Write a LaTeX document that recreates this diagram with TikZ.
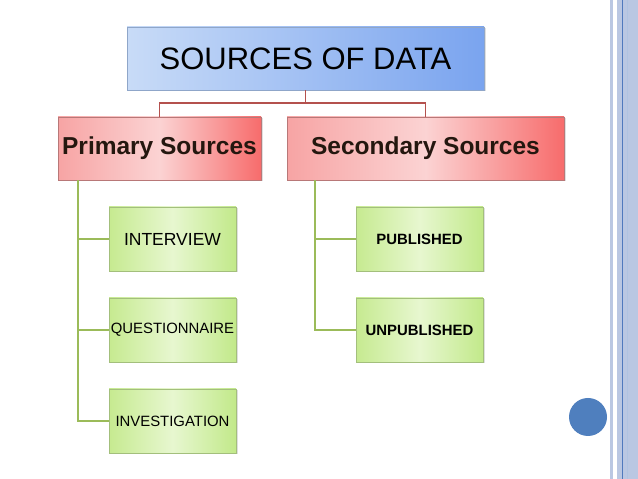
\documentclass[tikz,border=0pt]{standalone}
\usepackage{fontspec}
\setmainfont{Liberation Sans}
\usetikzlibrary{shadows}

\definecolor{blueL}{HTML}{C8DBF7}
\definecolor{blueR}{HTML}{7AA4EF}
\definecolor{blueEdge}{HTML}{8FA6C9}
\definecolor{redL}{HTML}{F7A4A4}
\definecolor{redM}{HTML}{FBD3D3}
\definecolor{redR}{HTML}{F76C6C}
\definecolor{redEdge}{HTML}{B87878}
\definecolor{redText}{HTML}{24170F}
\definecolor{greenL}{HTML}{C6EA90}
\definecolor{greenM}{HTML}{E7F7D0}
\definecolor{greenR}{HTML}{C2E98A}
\definecolor{greenEdge}{HTML}{A3BF7C}
\definecolor{redline}{HTML}{B4514E}
\definecolor{greenline}{HTML}{9BBB59}
\definecolor{barblue}{HTML}{BAC7E2}
\definecolor{linedark}{HTML}{5079BD}
\definecolor{dotblue}{HTML}{4F7FBE}

\begin{document}
\begin{tikzpicture}[x=1pt,y=1pt,
	box/.style={draw, inner sep=0pt, drop shadow={opacity=0.25, shadow xshift=1.5pt, shadow yshift=-1.5pt}},
	titlebox/.style={box, draw=blueEdge, left color=blueL, right color=blueR, minimum width=357pt, minimum height=63pt, font=\fontsize{31}{36}\selectfont},
	groupbox/.style={box, draw=redEdge, left color=redL, right color=redR, middle color=redM, minimum height=63pt, text=redText, font=\fontsize{24.5}{28}\selectfont\bfseries},
	itembox/.style={box, draw=greenEdge, left color=greenL, right color=greenR, middle color=greenM, minimum width=127pt, minimum height=64pt, font=\fontsize{14.9}{17}\selectfont},
	redlink/.style={draw=redline, line width=1.6pt},
	greenlink/.style={draw=greenline, line width=1.7pt}]

	\fill[white] (0,0) rectangle (638,479);
	\useasboundingbox (0,0) rectangle (638,479);

	\fill[barblue] (610,0) rectangle (612.5,479);
	\fill[barblue] (617,0) rectangle (638,479);
	\draw[linedark, line width=1pt] (622.5,0) -- (622.5,479);
	\draw[linedark!45, line width=0.6pt] (627,0) -- (627,479);
	\fill[dotblue] (588,62) circle (19pt);

	\node[titlebox] (sources) at (305.5,420.5) {SOURCES OF DATA};
	\node[groupbox, minimum width=203pt] (primary) at (159.5,330.5) {Primary Sources};
	\node[groupbox, minimum width=277pt] (secondary) at (425.5,330.5) {Secondary Sources};

	\node[itembox, font=\fontsize{17.5}{20}\selectfont] (interview) at (172.5,240) {INTERVIEW};
	\node[itembox] (questionnaire) at (172.5,149) {QUESTIONNAIRE};
	\node[itembox] (investigation) at (172.5,58) {INVESTIGATION};
	\node[itembox, font=\fontsize{14.9}{17}\selectfont\bfseries] (published) at (419.5,240) {PUBLISHED};
	\node[itembox, font=\fontsize{14.9}{17}\selectfont\bfseries] (unpublished) at (419.5,149) {UNPUBLISHED};

	\draw[redlink] (sources.south) -- ++(0,-13) coordinate (split) -| (primary.north);
	\draw[redlink] (split) -| (secondary.north);

	\foreach \n in {interview,questionnaire,investigation}
		\draw[greenlink] ([xshift=20.5pt]primary.south west) |- (\n.west);
	\foreach \n in {published,unpublished}
		\draw[greenlink] ([xshift=28pt]secondary.south west) |- (\n.west);

\end{tikzpicture}
\end{document}
